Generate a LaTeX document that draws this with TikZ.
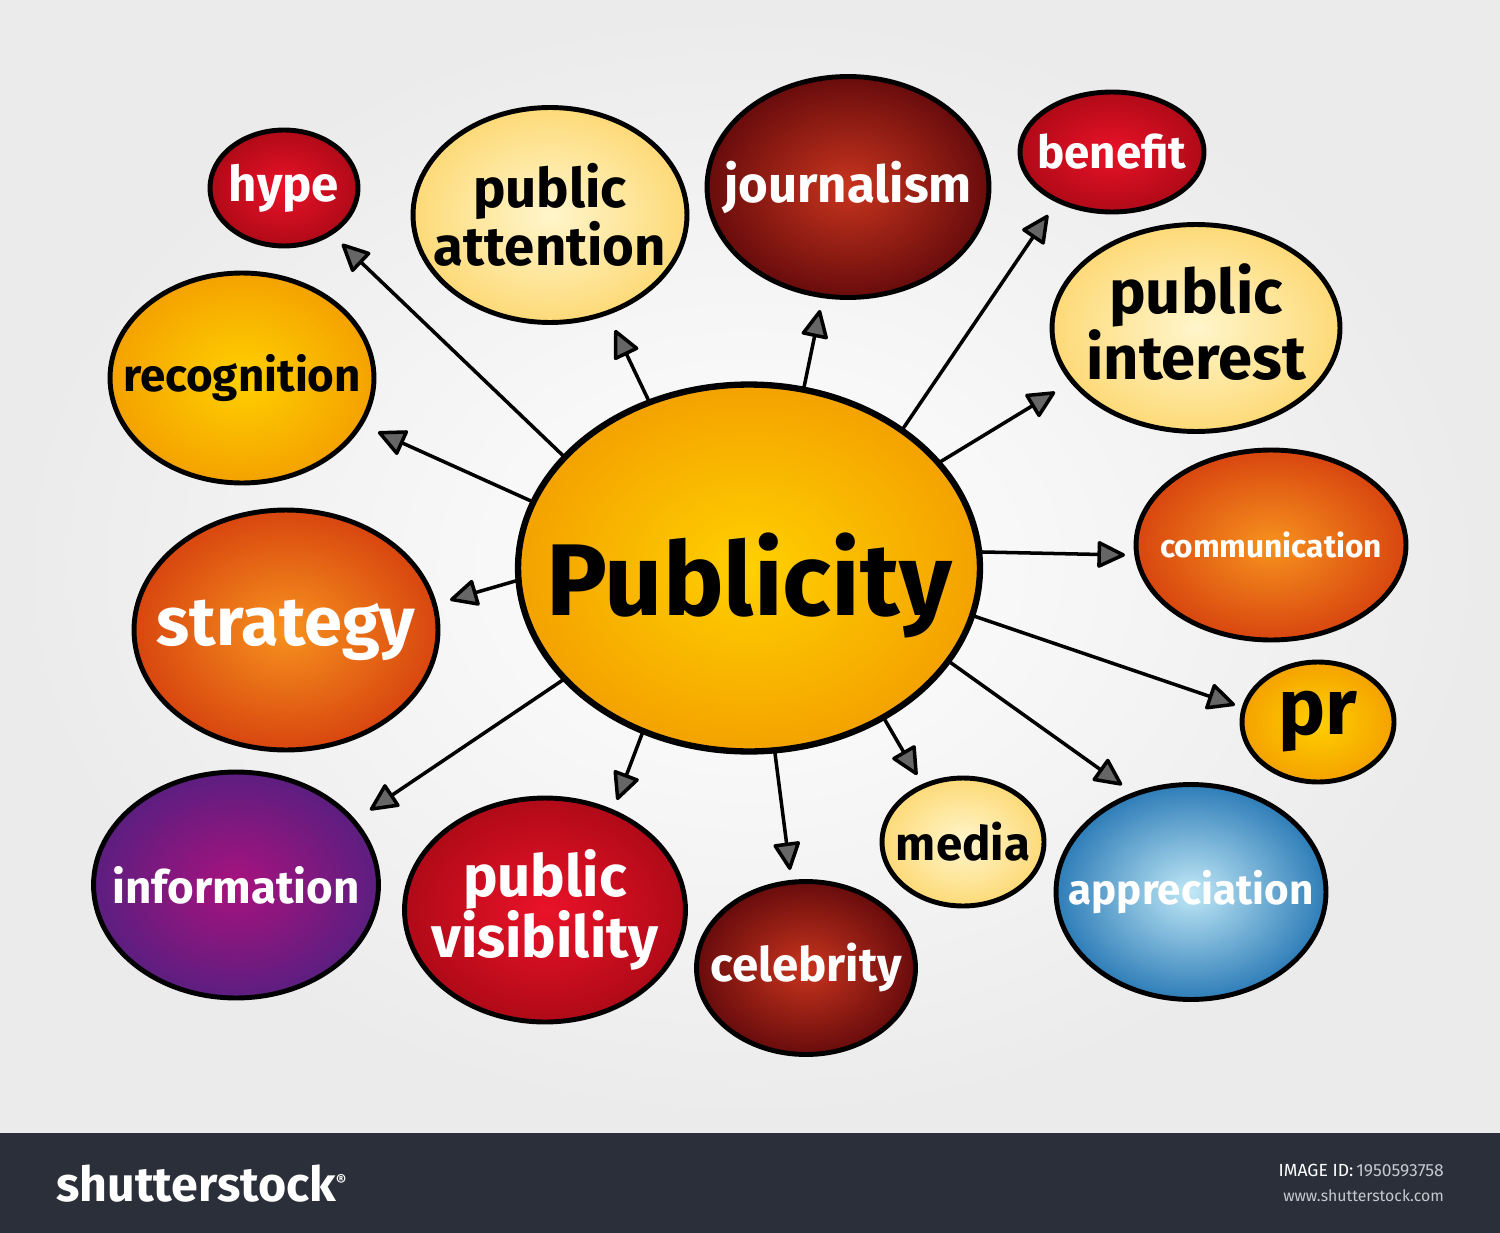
\documentclass[tikz,border=0pt]{standalone}
\usepackage{fontspec}
\setmainfont{Fira Sans}
\usetikzlibrary{shapes.geometric,arrows.meta}
\definecolor{barbg}{HTML}{2A2F39}
\definecolor{pubin}{HTML}{FFD000}\definecolor{pubout}{HTML}{F4A200}
\definecolor{redin}{HTML}{EA1228}\definecolor{redout}{HTML}{B00A18}
\definecolor{brnin}{HTML}{C8341E}\definecolor{brnout}{HTML}{680C0C}
\definecolor{ltyin}{HTML}{FFF6CC}\definecolor{ltyout}{HTML}{FDDA78}
\definecolor{orgin}{HTML}{F7921E}\definecolor{orgout}{HTML}{D8460F}
\definecolor{purin}{HTML}{A8127E}\definecolor{purout}{HTML}{5C1E80}
\definecolor{bluin}{HTML}{C0E8F6}\definecolor{bluout}{HTML}{2E7DB8}
\definecolor{idgray}{HTML}{C4C8D0}
\tikzset{
  bub/.style={ellipse, draw=black, line width=2.8pt, inner sep=0pt, outer sep=0pt, shading=radial},
  red/.style={bub, inner color=redin, outer color=redout},
  brn/.style={bub, inner color=brnin, outer color=brnout},
  lty/.style={bub, inner color=ltyin, outer color=ltyout},
  yel/.style={bub, inner color=pubin, outer color=pubout},
  org/.style={bub, inner color=orgin, outer color=orgout},
  pur/.style={bub, inner color=purin, outer color=purout},
  blu/.style={bub, inner color=bluin, outer color=bluout},
  wt/.style={text=white, font=\bfseries, align=center},
  bt/.style={text=black, font=\bfseries, align=center},
  arr/.style={line width=2pt, line cap=round,
    -{Triangle[length=0.6cm, width=0.56cm, fill=black!60, line width=2pt, round]}},
}
\begin{document}
\begin{tikzpicture}[x=0.02cm,y=-0.02cm]
\useasboundingbox (0,0) rectangle (1500,1233);
% background
\shade[inner color=white, outer color=black!8] (0,0) rectangle (1500,1133);
\fill[barbg] (0,1133) rectangle (1500,1233);
\node[text=white, font=\bfseries\fontsize{27.5}{32}\selectfont, anchor=west] (logo) at (50,1184) {shutterstock\textsuperscript{\fontsize{9}{10}\selectfont ®}};
\node[anchor=east, font=\fontsize{10}{12}\selectfont, text=white] (imgid) at (1450,1171) {IMAGE ID:\,\textcolor{idgray}{1950593758}};
\node[anchor=east, font=\fontsize{9}{11}\selectfont, text=idgray] (www) at (1450,1196) {www.shutterstock.com};

% central node
\node[bub, inner color=pubin, outer color=pubout, line width=3.6pt, minimum width=9.24cm, minimum height=7.34cm,
  label={[bt, font=\bfseries\fontsize{58}{60}\selectfont, yshift=-0.35cm]center:Publicity}] (pub) at (749,568) {};

% satellites
\node[red, minimum width=2.96cm, minimum height=2.32cm,
  label={[wt, font=\bfseries\fontsize{28}{30}\selectfont]center:hype}] (hype) at (284,188) {};
\node[lty, minimum width=5.48cm, minimum height=4.3cm,
  label={[bt, font=\bfseries\fontsize{31}{31}\selectfont]center:public\\attention}] (patt) at (550,215) {};
\node[brn, minimum width=5.64cm, minimum height=4.42cm,
  label={[wt, font=\bfseries\fontsize{29}{30}\selectfont]center:journalism}] (jour) at (848,187) {};
\node[red, minimum width=3.68cm, minimum height=2.4cm,
  label={[wt, font=\bfseries\fontsize{26}{28}\selectfont]center:benefit}] (bene) at (1112,152) {};
\node[lty, minimum width=5.76cm, minimum height=4.14cm,
  label={[bt, font=\bfseries\fontsize{35}{33}\selectfont, yshift=0.12cm]center:public\\interest}] (pint) at (1196,328) {};
\node[yel, minimum width=5.28cm, minimum height=4.2cm,
  label={[bt, font=\bfseries\fontsize{26}{28}\selectfont]center:recognition}] (reco) at (242,378) {};
\node[org, minimum width=5.4cm, minimum height=3.8cm,
  label={[wt, font=\bfseries\fontsize{18}{20}\selectfont]center:communication}] (comm) at (1271,545) {};
\node[org, minimum width=6.08cm, minimum height=4.8cm,
  label={[wt, font=\bfseries\fontsize{39}{40}\selectfont]center:strategy}] (stra) at (286,630) {};
\node[yel, minimum width=3.04cm, minimum height=2.4cm,
  label={[bt, font=\bfseries\fontsize{45}{46}\selectfont]center:pr}] (pr) at (1318,722) {};
\node[pur, minimum width=5.7cm, minimum height=4.52cm,
  label={[wt, font=\bfseries\fontsize{26}{28}\selectfont]center:information}] (info) at (236,885) {};
\node[red, minimum width=5.62cm, minimum height=4.48cm,
  label={[wt, font=\bfseries\fontsize{33}{34}\selectfont]center:public\\visibility}] (pvis) at (545,910) {};
\node[brn, minimum width=4.38cm, minimum height=3.46cm,
  label={[wt, font=\bfseries\fontsize{27}{28}\selectfont]center:celebrity}] (cele) at (806,968) {};
\node[lty, minimum width=3.24cm, minimum height=2.56cm,
  label={[bt, font=\bfseries\fontsize{27}{28}\selectfont]center:media}] (medi) at (963,842) {};
\node[blu, minimum width=5.4cm, minimum height=4.3cm,
  label={[wt, font=\bfseries\fontsize{24}{26}\selectfont]center:appreciation}] (appr) at (1191,892) {};

% arrow tips (free ends near each bubble)
\coordinate (t-hype) at (342,244);
\coordinate (t-patt) at (615,330);
\coordinate (t-jour) at (820,310);
\coordinate (t-bene) at (1048,215);
\coordinate (t-pint) at (1055,392);
\coordinate (t-reco) at (378,432);
\coordinate (t-comm) at (1125,555);
\coordinate (t-stra) at (450,600);
\coordinate (t-pr) at (1235,705);
\coordinate (t-info) at (370,810);
\coordinate (t-pvis) at (617,800);
\coordinate (t-cele) at (790,870);
\coordinate (t-medi) at (917,775);
\coordinate (t-appr) at (1122,785);

\draw[arr] (pub.149) -- (t-hype);
\draw[arr] (pub.121) -- (t-patt);
\draw[arr] (pub.73) -- (t-jour);
\draw[arr] (pub.42) -- (t-bene);
\draw[arr] (pub.29) -- (t-pint);
\draw[arr] (pub.163) -- (t-reco);
\draw[arr] (pub.4) -- (t-comm);
\draw[arr] (pub.183) -- (t-stra);
\draw[arr] (pub.-12) -- (t-pr);
\draw[arr] (pub.211) -- (t-info);
\draw[arr] (pub.237) -- (t-pvis);
\draw[arr] (pub.278) -- (t-cele);
\draw[arr] (pub.-48) -- (t-medi);
\draw[arr] (pub.-25) -- (t-appr);
\end{tikzpicture}
\end{document}
